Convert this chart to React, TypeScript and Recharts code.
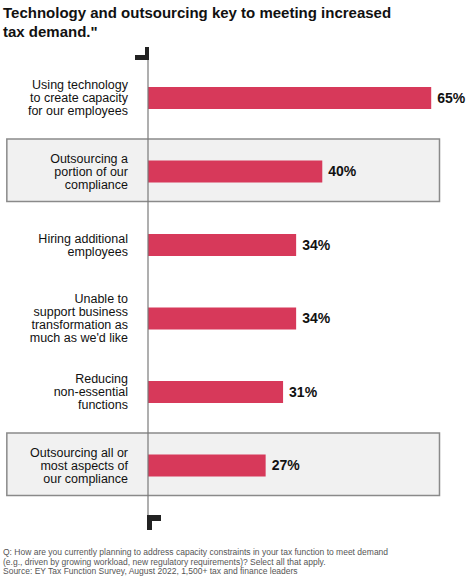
import { Bar, BarChart, LabelList, ReferenceArea, ReferenceLine, XAxis, YAxis } from 'recharts';

const categories = [
    'Using technology\nto create capacity\nfor our employees',
    'Outsourcing a\nportion of our\ncompliance',
    'Hiring additional\nemployees',
    'Unable to\nsupport business\ntransformation as\nmuch as we\'d like',
    'Reducing\nnon-essential\nfunctions',
    'Outsourcing all or\nmost aspects of\nour compliance',
];
const shares = [65, 40, 34, 34, 31, 27];
const highlighted = [categories[1], categories[5]];

const data = categories.map((name, i) => ({ name, value: shares[i] }));

const MultiLineTick = ({ x, y, payload }: any) => {
    const lines = String(payload.value).split('\n');
    const lineHeight = 13;
    const startY = y - ((lines.length - 1) * lineHeight) / 2;
    return (
        <text x={x} y={startY} textAnchor="end" fontSize={12.5} fill="#111" fontFamily="Liberation Sans, Arial, sans-serif">
            {lines.map((line, i) => (
                <tspan key={i} x={x} y={startY + i * lineHeight} dy="0.35em">
                    {line}
                </tspan>
            ))}
        </text>
    );
};

// gray axis line with the black corner marks at each end
const AxisLine = ({ x1, y1, y2 }: any) => {
    const top = Math.min(y1, y2);
    const bottom = Math.max(y1, y2);
    return (
        <g>
            <line x1={x1} y1={top} x2={x1} y2={bottom} stroke="#7a7a7a" strokeWidth={1.2} />
            <path d={`M${x1 + 1},${top} V${top + 13} H${x1 - 13} V${top + 8} H${x1 - 3} V${top} Z`} fill="#222" />
            <path d={`M${x1 - 1},${bottom} V${bottom - 15} H${x1 + 13} V${bottom - 9} H${x1 + 4} V${bottom} Z`} fill="#222" />
        </g>
    );
};

const InsetBox = ({ x, y, width, height }: any) => (
    <rect x={x} y={y + 4.5} width={width} height={height - 11} fill="#f1f1f1" stroke="#8a8a8a" strokeWidth={1.5} />
);

export default function App() {
    return (
        <div style={{ position: 'absolute', left: 0, top: 0, width: 474, height: 580, background: '#fff', fontFamily: 'Liberation Sans, Arial, sans-serif' }}>
            <div style={{ position: 'absolute', left: 3, top: 3, width: 460, fontSize: 15, fontWeight: 700, lineHeight: '19px', color: '#111' }}>
                Technology and outsourcing key to meeting increased
                <br />
                tax demand."
            </div>
            <div style={{ position: 'absolute', left: 0, top: 0 }}>
                <BarChart
                    width={474}
                    height={580}
                    data={data}
                    layout="vertical"
                    margin={{ top: 47, right: 21, bottom: 50, left: 0 }}
                    barSize={22}
                >
                    {highlighted.map((cat) => (
                        <ReferenceArea
                            key={cat}
                            y1={cat}
                            y2={cat}
                            x1={-32.4}
                            x2={66.9}
                            ifOverflow="visible"
                            shape={<InsetBox />}
                        />
                    ))}
                    <XAxis type="number" domain={[0, 70]} hide />
                    <YAxis
                        type="category"
                        dataKey="name"
                        width={148}
                        axisLine={false}
                        tickLine={false}
                        tickSize={0}
                        tickMargin={20}
                        padding={{ top: 14, bottom: 28 }}
                        tick={<MultiLineTick />}
                        interval={0}
                    />
                    <Bar dataKey="value" fill="#d7395a" isAnimationActive={false}>
                        <LabelList
                            dataKey="value"
                            position="right"
                            offset={6}
                            formatter={(v: any) => `${v}%`}
                            style={{ fontSize: 14, fontWeight: 700, fill: '#111', fontFamily: 'Liberation Sans, Arial, sans-serif' }}
                        />
                    </Bar>
                    <ReferenceLine x={0} ifOverflow="visible" shape={<AxisLine />} />
                </BarChart>
            </div>
            <div style={{ position: 'absolute', left: 3, top: 548, width: 470, fontSize: 8.5, lineHeight: '9.6px', color: '#555' }}>
                Q: How are you currently planning to address capacity constraints in your tax function to meet demand
                <br />
                (e.g., driven by growing workload, new regulatory requirements)? Select all that apply.
                <br />
                Source: EY Tax Function Survey, August 2022, 1,500+ tax and finance leaders
            </div>
        </div>
    );
}
